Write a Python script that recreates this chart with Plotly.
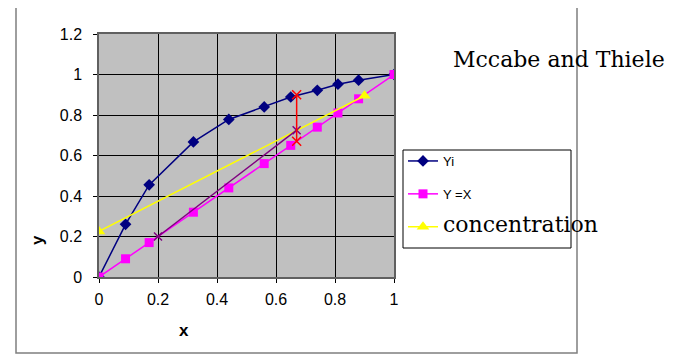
import plotly.graph_objects as go

# ---- data ----
x_eq = [0, 0.09, 0.17, 0.32, 0.44, 0.56, 0.65, 0.74, 0.81, 0.88, 1.0]
yi = [0, 0.26, 0.455, 0.667, 0.778, 0.84, 0.889, 0.922, 0.952, 0.972, 1.0]
y_eq_x = [0, 0.09, 0.17, 0.32, 0.44, 0.56, 0.65, 0.74, 0.81, 0.88, 1.0]
conc_x = [0, 0.9]
conc_y = [0.225, 0.895]
op_x = [0.2, 0.67]
op_y = [0.2, 0.725]
step_x = [0.67, 0.67]
step_y = [0.67, 0.90]
x_ticks = [0, 0.2, 0.4, 0.6, 0.8, 1]
y_ticks = [0, 0.2, 0.4, 0.6, 0.8, 1, 1.2]

W, H = 695, 360
O = 8  # page body margin offset
L, R, T, B = 99 - O, 394 - O, 34 - O, 277 - O  # plot area in figure pixels


def px(xp):
    return (xp - O - L) / (R - L)


def py(yp):
    return (B - (yp - O)) / (B - T)


fig = go.Figure()
fig.add_trace(go.Scatter(x=x_eq, y=yi, name="Yi", mode="lines+markers",
                         line=dict(color="#000080", width=1.5),
                         marker=dict(symbol="diamond", size=9, color="#000080"),
                         legendgroup="a"))
fig.add_trace(go.Scatter(x=x_eq, y=y_eq_x, name="Y =X", mode="lines+markers",
                         line=dict(color="#FF00FF", width=1.5),
                         marker=dict(symbol="square", size=9, color="#FF00FF"),
                         legendgroup="b"))
fig.add_trace(go.Scatter(x=conc_x, y=conc_y,
                         name="<span style='font-family:DejaVu Serif;font-size:22px'>concentration</span>",
                         mode="lines+markers",
                         line=dict(color="#FFFF00", width=1.5),
                         marker=dict(symbol="triangle-up", size=11, color="#FFFF00"),
                         legendgroup="c"))
fig.add_trace(go.Scatter(x=op_x, y=op_y, mode="lines+markers", showlegend=False,
                         line=dict(color="#800080", width=1.5),
                         marker=dict(symbol="x-thin", size=8, line=dict(color="#800080", width=1.5))))
fig.add_trace(go.Scatter(x=step_x, y=step_y, mode="lines+markers", showlegend=False,
                         line=dict(color="#FF0000", width=1.5),
                         marker=dict(symbol="x-thin", size=9, line=dict(color="#FF0000", width=1.5))))

axis_common = dict(showgrid=True, gridcolor="#000000", gridwidth=1,
                   showline=True, linecolor="#606060", linewidth=1.5, mirror=True,
                   ticks="outside", ticklen=4, tickcolor="#000000", zeroline=False,
                   tickfont=dict(family="Liberation Sans, Arial", size=16, color="#000000"))
fig.update_xaxes(range=[0, 1], tickvals=x_ticks, ticktext=[str(v) for v in x_ticks],
                 ticklabelstandoff=3, **axis_common)
fig.update_yaxes(range=[0, 1.2], tickvals=y_ticks, ticktext=[str(v) for v in y_ticks],
                 ticklabelstandoff=8, **axis_common)

fig.update_layout(
    width=W, height=H,
    margin=dict(l=L, r=W - R, t=T, b=H - B),
    plot_bgcolor="#C0C0C0", paper_bgcolor="#FFFFFF",
    showlegend=True,
    legend=dict(x=px(403), y=py(146), xanchor="left", yanchor="top",
                bgcolor="rgba(0,0,0,0)", borderwidth=0,
                font=dict(family="Liberation Sans, Arial", size=13, color="#000000"),
                tracegroupgap=13, traceorder="grouped"),
    shapes=[
        dict(type="rect", xref="paper", yref="paper", x0=px(16), x1=px(577), y0=py(353), y1=py(-10),
             line=dict(color="#7F7F7F", width=1.5), fillcolor="rgba(0,0,0,0)", layer="below"),
        dict(type="rect", xref="paper", yref="paper", x0=px(403), x1=px(571), y0=py(248), y1=py(150),
             line=dict(color="#000000", width=1), fillcolor="#FFFFFF", layer="above"),
    ],
    annotations=[
        dict(text="Mccabe and Thiele", xref="paper", yref="paper", x=px(559), y=py(60),
             showarrow=False, xanchor="center", yanchor="middle",
             font=dict(family="DejaVu Serif", size=22, color="#000000")),
        dict(text="<b>x</b>", xref="paper", yref="paper", x=px(184), y=py(330),
             showarrow=False, xanchor="center", yanchor="middle",
             font=dict(family="Liberation Sans, Arial", size=17, color="#000000")),
        dict(text="<b>y</b>", xref="paper", yref="paper", x=px(37), y=py(240),
             showarrow=False, xanchor="center", yanchor="middle", textangle=-90,
             font=dict(family="Liberation Sans, Arial", size=17, color="#000000")),
    ],
)

fig.write_html("out.html")
